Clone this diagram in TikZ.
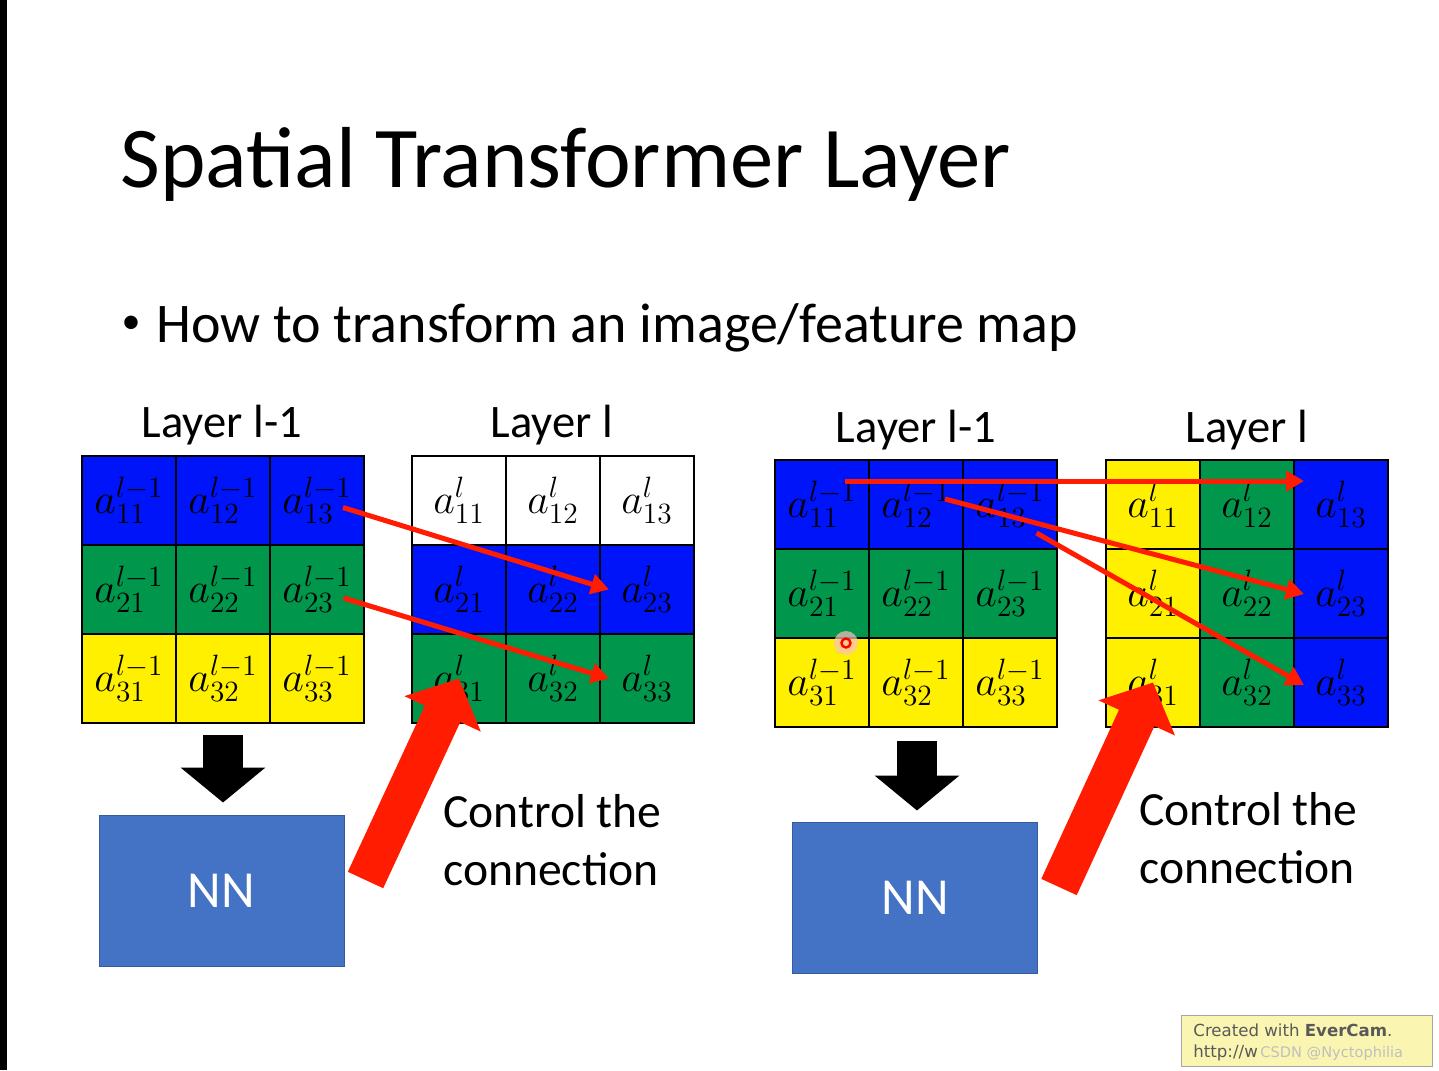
\RequirePackage{fix-cm}
\documentclass[tikz,border=0pt]{standalone}
\usepackage[no-math]{fontspec}
\setmainfont{Carlito}
\newfontfamily\wmfont{DejaVu Sans}
\usetikzlibrary{arrows.meta,calc,positioning}
\definecolor{stblue}{RGB}{0,20,250}
\definecolor{stgreen}{RGB}{0,150,75}
\definecolor{styellow}{RGB}{255,240,0}
\definecolor{nnblue}{RGB}{68,114,196}
\definecolor{arrred}{RGB}{255,28,0}
\definecolor{wmyellow}{RGB}{250,246,178}
\tikzset{
  cell/.style={draw=black, line width=1pt, minimum width=47pt, minimum height=44.5pt, inner sep=0pt, font=\fontsize{21}{21}\selectfont},
  nnbox/.style={fill=nnblue, draw=nnblue!80!black, line width=0.5pt, minimum width=122.5pt, minimum height=75.5pt, text=white, font=\fontsize{26}{26}\selectfont},
  lbl/.style={anchor=base, inner sep=0pt, font=\fontsize{23.3}{23.3}\selectfont},
  ctrl/.style={anchor=base west, inner sep=0pt, font=\fontsize{23.8}{23.8}\selectfont},
  thinarr/.style={draw=arrred, line width=2.5pt, -{Triangle[width=10pt,length=9pt]}},
  downarr/.style={draw=black, line width=20pt, -{Triangle[width=41.5pt,length=17.5pt]}},
  bigarr/.style={draw=arrred, line width=19.5pt, -{Triangle[width=41pt,length=19.5pt]}},
  wmtext/.style={anchor=base west, inner sep=0pt, text=gray!70!black, font=\wmfont\fontsize{8.3}{8.3}\selectfont}
}

\begin{document}
\begin{tikzpicture}[x=0.5pt, y=-0.5pt]
\useasboundingbox (0,0) rectangle (1439,1070);
\fill[black] (0,0) rectangle (7,1070); % edge of the screen
\node[anchor=base west, inner sep=0pt, font=\fontsize{43.3}{43.3}\selectfont] (title) at (120,187) {Spatial Transformer Layer};
\node[inner sep=0pt, font=\fontsize{19}{19}\selectfont] (dot) at (131,325) {•};
\node[anchor=base west, inner sep=0pt, font=\fontsize{28}{28}\selectfont] (howto) at (156,342) {How to transform an image/feature map};

% edit here for the left pair of maps
\foreach \r/\rc in {1/stblue, 2/stgreen, 3/styellow}
  \foreach \c in {1,2,3}
    \node[cell, fill=\rc] (A\r\c) at ({129+(\c-1)*94}, {500.5+(\r-1)*89}) {$a^{l-1}_{\r\c}$};
\foreach \r/\rc in {1/white, 2/stblue, 3/stgreen}
  \foreach \c in {1,2,3}
    \node[cell, fill=\rc] (B\r\c) at ({459+(\c-1)*94}, {500.5+(\r-1)*89}) {$a^{l}_{\r\c}$};

% edit here for the right pair of maps
\foreach \r/\rc in {1/stblue, 2/stgreen, 3/styellow}
  \foreach \c in {1,2,3}
    \node[cell, fill=\rc] (C\r\c) at ({822+(\c-1)*94}, {504.5+(\r-1)*89}) {$a^{l-1}_{\r\c}$};
\foreach \c/\cc in {1/styellow, 2/stgreen, 3/stblue}
  \foreach \r in {1,2,3}
    \node[cell, fill=\cc] (D\r\c) at ({1153+(\c-1)*94}, {504.5+(\r-1)*89}) {$a^{l}_{\r\c}$};

\node[lbl] (labA) at (222,437) {Layer l-1};
\node[lbl] (labB) at (552,437) {Layer l};
\node[lbl] (labC) at (916,442) {Layer l-1};
\node[lbl] (labD) at (1247,442) {Layer l};

\node[nnbox] (NN1) at (221.5,890.5) {NN};
\node[nnbox] (NN2) at (915,897.5) {NN};

\node[ctrl] (ctlA) at (443,827) {Control the};
\node[ctrl] (conA) at (443,885) {connection};
\node[ctrl] (ctlB) at (1139,825) {Control the};
\node[ctrl] (conB) at (1139,883) {connection};

% connections
\draw[thinarr] ($(A13.center)+(26,7)$) -- ($(B23.west)+(10,0)$);
\draw[thinarr] ($(A23.center)+(26.5,8.5)$) -- ($(B33.west)+(10,0)$);
\draw[thinarr] ($(C11.center)+(23,-23.5)$) -- ($(D13.west)+(11,-23.5)$);
\draw[thinarr] ($(C12.center)+(29,-5.5)$) -- ($(D23.west)+(11,0.5)$);
\draw[thinarr] ($(C13.center)+(26.5,28.5)$) -- ($(D33.west)+(11,2.5)$);

\draw[downarr] ($(A32.south)+(0,11)$) -- ($(A32.south |- NN1.north)+(0,-12)$);
\draw[downarr] ($(C32.south)+(1,13)$) -- ($(C32.south |- NN2.north)+(1,-11)$);

\draw[bigarr] ($(NN1.east)+(21,-10.5)$) -- (B31.center);
\draw[bigarr] ($(NN2.east)+(21,-10.5)$) -- (D31.center);

% pointer
\fill[red!25, opacity=0.7] (846,643) circle (12);
\draw[red, line width=1.2pt] (846,643) circle (4.5);

% watermark
\node[draw=gray!70, fill=wmyellow, minimum width=125.5pt, minimum height=25.5pt, anchor=north west] (wm) at (1181,1015) {};
\node[wmtext] (wm1) at (1193,1036) {Created with \textbf{EverCam}.};
\node[wmtext] (wm2) at (1193,1057) {http://w};
\node[wmtext, text=gray!50, font=\wmfont\fontsize{7.3}{7.3}\selectfont] (wm3) at (1260,1057) {CSDN @Nyctophilia};
\end{tikzpicture}
\end{document}
